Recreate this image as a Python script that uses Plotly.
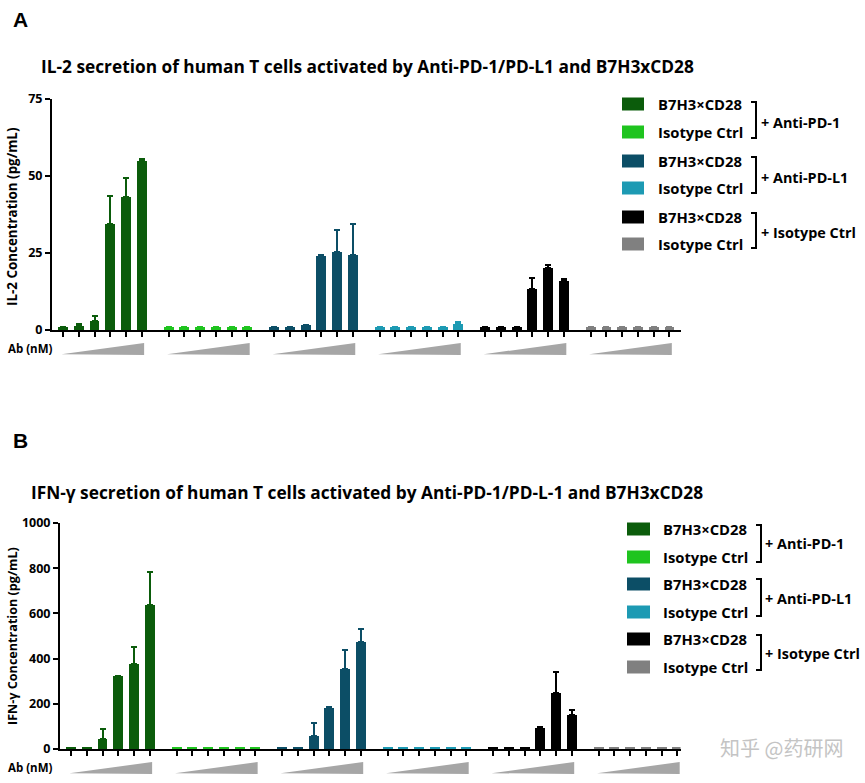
import plotly.graph_objects as go

W, H = 865, 783

def X(px):
    return px / W

def Y(py):
    return 1 - py / H

# ---------------- data ----------------
groups = ["B7H3×CD28 + Anti-PD-1", "Isotype Ctrl + Anti-PD-1",
          "B7H3×CD28 + Anti-PD-L1", "Isotype Ctrl + Anti-PD-L1",
          "B7H3×CD28 + Isotype Ctrl", "Isotype Ctrl + Isotype Ctrl"]
colors = ["#0b5c0b", "#1fc41f", "#0c4e66", "#1d9ab3", "#000000", "#808080"]

il2_mean = [
    [1.0, 1.4, 2.9, 34.4, 43.1, 55.0],
    [1.0, 1.0, 1.0, 1.0, 1.0, 1.0],
    [1.0, 1.0, 1.5, 24.1, 25.2, 24.3],
    [1.0, 1.0, 1.0, 1.0, 1.0, 1.8],
    [1.0, 1.0, 1.0, 13.2, 20.0, 15.8],
    [1.0, 1.0, 1.0, 1.0, 1.0, 1.0],
]
il2_err = [
    [0.1, 0.6, 1.7, 9.1, 6.2, 0.4],
    [0.0, 0.0, 0.0, 0.0, 0.0, 0.0],
    [0.0, 0.0, 0.1, 0.3, 7.3, 10.1],
    [0.0, 0.0, 0.0, 0.0, 0.0, 0.9],
    [0.0, 0.0, 0.0, 3.6, 1.1, 0.8],
    [0.0, 0.0, 0.0, 0.0, 0.0, 0.0],
]
ifn_mean = [
    [6, 6, 46, 324, 375, 638],
    [6, 6, 6, 6, 6, 6],
    [6, 6, 57, 182, 354, 475],
    [6, 6, 6, 6, 6, 6],
    [6, 6, 6, 93, 247, 151],
    [5, 5, 5, 5, 5, 5],
]
ifn_err = [
    [0, 0, 42, 0, 76, 145],
    [0, 0, 0, 0, 0, 0],
    [0, 0, 57, 3, 83, 56],
    [0, 0, 0, 0, 0, 0],
    [0, 0, 0, 5, 95, 21],
    [0, 0, 0, 0, 0, 0],
]
legend_labels = ["B7H3×CD28", "Isotype Ctrl"] * 3
bracket_labels = ["+ Anti-PD-1", "+ Anti-PD-L1", "+ Isotype Ctrl"]
il2_ticks = [0, 25, 50, 75]
ifn_ticks = [0, 200, 400, 600, 800, 1000]

GROUP_STEP = 6.7
BAR_W = 0.63
FONT = "Open Sans"

def xpos(g):
    return [g * GROUP_STEP + i for i in range(6)]

fig = go.Figure()
all_x = []
for g in range(6):
    all_x += xpos(g)
    for (means, errs, xa, ya) in [(il2_mean, il2_err, "x", "y"), (ifn_mean, ifn_err, "x2", "y2")]:
        fig.add_trace(go.Bar(
            x=xpos(g), y=means[g], width=BAR_W, xaxis=xa, yaxis=ya,
            marker=dict(color=colors[g], line=dict(width=0)),
            error_y=dict(type="data", symmetric=False, array=errs[g],
                         arrayminus=[0] * 6, color=colors[g], thickness=2, width=3),
            name=groups[g], showlegend=False))

axis_common = dict(showline=True, linewidth=2, linecolor="black", showgrid=False,
                   zeroline=False, ticks="outside", ticklen=5, tickwidth=2, tickcolor="black",
                   automargin=False)

fig.update_layout(
    width=W, height=H, margin=dict(l=0, r=0, t=0, b=0, pad=0),
    paper_bgcolor="white", plot_bgcolor="white", bargap=0,
    font=dict(family=FONT, color="black"),
    xaxis=dict(domain=[X(52), X(680.5)], range=[-0.7, 39.2], anchor="y",
               tickvals=all_x, showticklabels=False, **axis_common),
    yaxis=dict(domain=[Y(330), Y(99)], range=[0, 75], anchor="x",
               tickvals=il2_ticks, ticktext=[f"<b>{t}</b>" for t in il2_ticks],
               tickfont=dict(size=12.5, family=FONT), **axis_common),
    xaxis2=dict(domain=[X(60), X(680.5)], range=[-0.7, 38.7], anchor="y2",
                tickvals=all_x, showticklabels=False, **axis_common),
    yaxis2=dict(domain=[Y(749), Y(523)], range=[0, 1000], anchor="x2",
                tickvals=ifn_ticks, ticktext=[f"<b>{t}</b>" for t in ifn_ticks],
                tickfont=dict(size=12.5, family=FONT), **axis_common),
)

shapes = []
ann = []

# gradient triangles (Ab concentration)
for g in range(6):
    x0 = g * GROUP_STEP - 0.1
    x1 = g * GROUP_STEP + 5.15
    for (xa, ytop, ybot) in [("x", 343, 355), ("x2", 762, 774)]:
        shapes.append(dict(type="path", xref=xa, yref="paper",
                           path=f"M {x0},{Y(ybot-0.8)} L {x1},{Y(ybot)} L {x1},{Y(ytop)} Z",
                           fillcolor="#a6a6a6", line=dict(width=0)))

def legend(sq_x0, sq_x1, text_x, centers, br_x, br_spans, br_label_x, br_label_y):
    for k, cy in enumerate(centers):
        shapes.append(dict(type="rect", xref="paper", yref="paper",
                           x0=X(sq_x0), x1=X(sq_x1), y0=Y(cy + 6.5), y1=Y(cy - 6.5),
                           fillcolor=colors[k], line=dict(width=0)))
        ann.append(dict(x=X(text_x), y=Y(cy), xref="paper", yref="paper",
                        text=f"<b>{legend_labels[k]}</b>", showarrow=False,
                        xanchor="left", yanchor="middle",
                        font=dict(size=14.8, family=FONT)))
    for j, (a, b) in enumerate(br_spans):
        shapes.append(dict(type="path", xref="paper", yref="paper",
                           path=f"M {X(br_x-5)},{Y(a)} L {X(br_x)},{Y(a)} L {X(br_x)},{Y(b)} L {X(br_x-5)},{Y(b)}",
                           line=dict(color="black", width=2)))
        ann.append(dict(x=X(br_label_x), y=Y(br_label_y[j]), xref="paper", yref="paper",
                        text=f"<b>{bracket_labels[j]}</b>", showarrow=False,
                        xanchor="left", yanchor="middle",
                        font=dict(size=14.4, family=FONT)))

legend(622, 644, 656, [104, 132, 161, 188, 217, 244], 756,
       [(102, 138), (157, 193), (213, 248)], 759, [122, 177, 232])
legend(627, 650, 661, [529, 557, 584, 612, 639, 667], 761,
       [(525, 562), (579, 616), (635, 670)], 763, [543, 598, 653])

# panel letters
for letter, cy in [("A", 19), ("B", 440)]:
    ann.append(dict(x=X(11), y=Y(cy), xref="paper", yref="paper", text=f"<b>{letter}</b>",
                    showarrow=False, xanchor="left", yanchor="middle",
                    font=dict(size=21, family="Liberation Sans")))

titles = [
    ("<b>IL-2 secretion of human T cells activated by Anti-PD-1/PD-L1 and B7H3xCD28</b>", 367, 67),
    ("<b>IFN-γ secretion of human T cells activated by Anti-PD-1/PD-L-1 and B7H3xCD28</b>", 367, 492),
]
for t, cx, cy in titles:
    ann.append(dict(x=X(cx), y=Y(cy), xref="paper", yref="paper", text=t, showarrow=False,
                    xanchor="center", yanchor="middle", font=dict(size=17.3, family=FONT)))

# y-axis titles
ann.append(dict(x=X(12), y=Y(217), xref="paper", yref="paper",
                text="<b>IL-2 Concentration (pg/mL)</b>", textangle=-90, showarrow=False,
                xanchor="center", yanchor="middle", font=dict(size=13.4, family=FONT)))
ann.append(dict(x=X(12), y=Y(636), xref="paper", yref="paper",
                text="<b>IFN-γ Concentration (pg/mL)</b>", textangle=-90, showarrow=False,
                xanchor="center", yanchor="middle", font=dict(size=12.6, family=FONT)))

# Ab (nM) labels
for cy in [348, 767]:
    ann.append(dict(x=X(6), y=Y(cy), xref="paper", yref="paper", text="<b>Ab (nM)</b>",
                    showarrow=False, xanchor="left", yanchor="middle",
                    font=dict(size=11.5, family=FONT)))

# watermark
ann.append(dict(x=X(845), y=Y(747), xref="paper", yref="paper", text="知乎 @药研网",
                showarrow=False, xanchor="right", yanchor="middle",
                font=dict(size=20, family="Noto Sans CJK SC", color="#c4c4c4")))

fig.update_layout(shapes=shapes, annotations=ann)
fig.write_html("out.html")
